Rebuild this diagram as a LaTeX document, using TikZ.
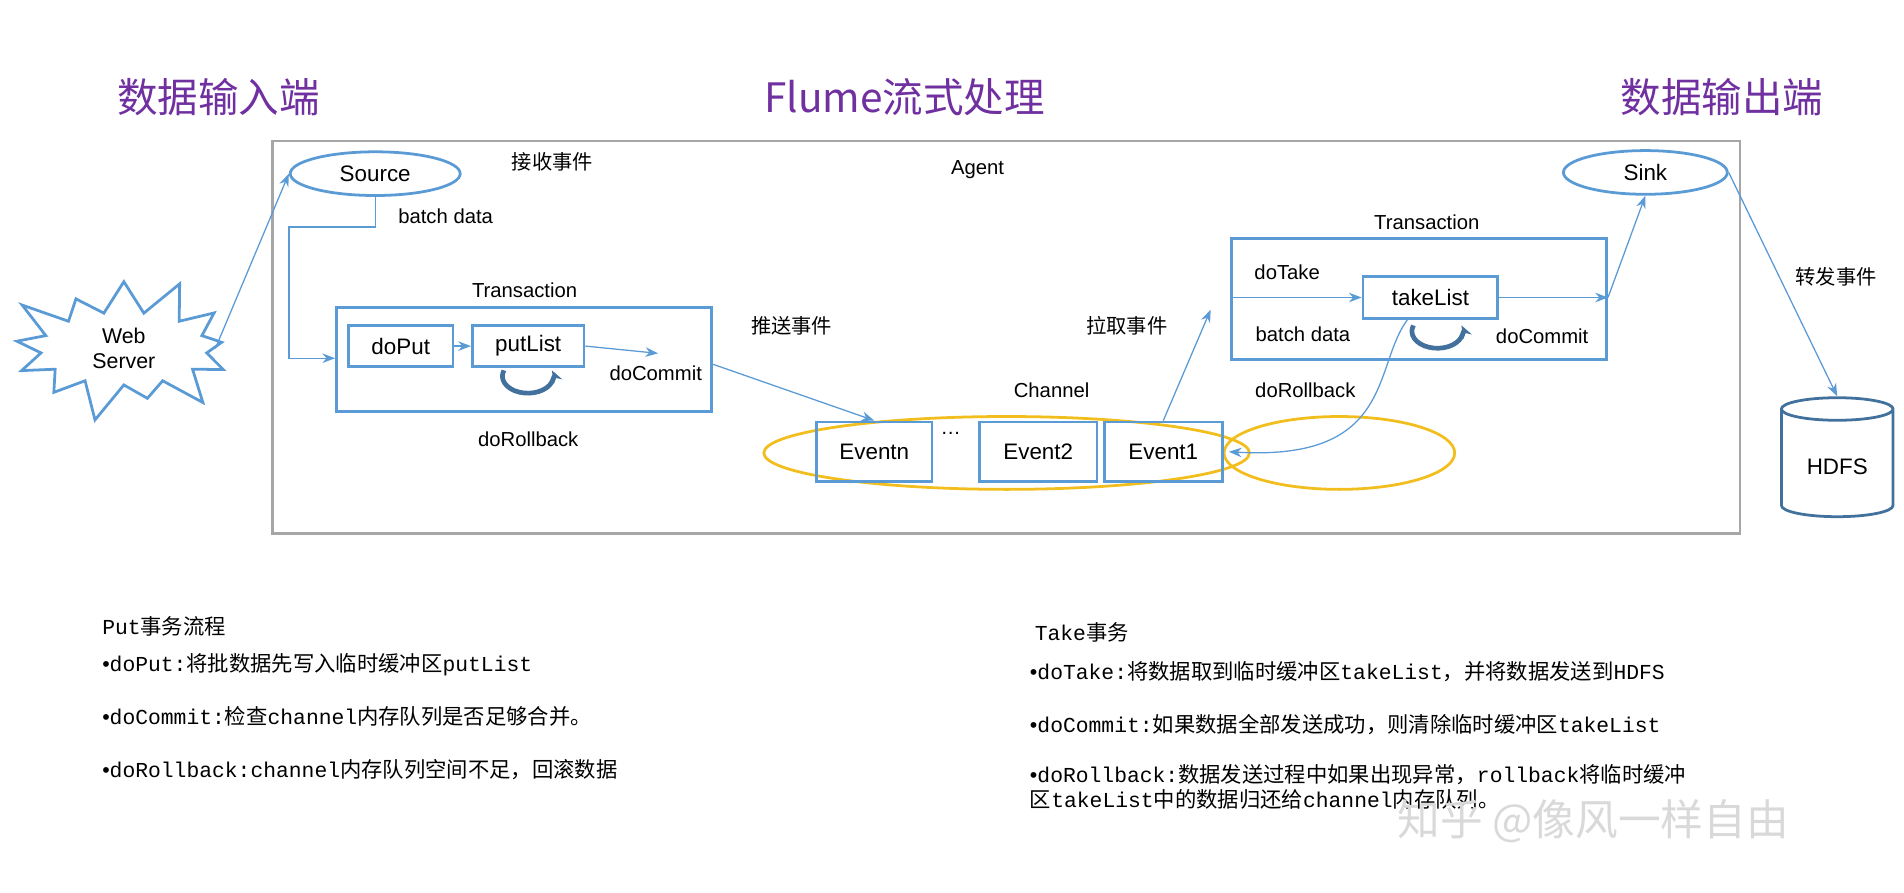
\documentclass[tikz,border=0pt]{standalone}
\usepackage{fontspec}
\setmainfont{Liberation Sans}
\newfontfamily\cjk{Noto Sans CJK SC}
\newfontfamily\mono{Liberation Mono}
\usetikzlibrary{shapes.geometric,shapes.symbols,arrows.meta}
\definecolor{bl}{HTML}{5B9BD5}
\definecolor{dbl}{HTML}{41719C}
\definecolor{pur}{HTML}{7030A0}
\definecolor{yel}{HTML}{F2BE1E}
\begin{document}
\begin{tikzpicture}[x=0.02cm,y=-0.02cm,
  box/.style={draw=bl,line width=1.3pt,minimum height=0.68cm,font=\fontsize{10.5}{12}\selectfont},
  arr/.style={draw=bl,-{Stealth[length=6pt]},line width=0.6pt},
  lab/.style={font=\fontsize{9.5}{11}\selectfont},
  zh/.style={font=\cjk\fontsize{9.5}{11}\selectfont},
  title/.style={font=\cjk\fontsize{19}{22}\selectfont,text=pur},
  txt/.style={anchor=west,font=\fontsize{10}{12}\selectfont}]
\useasboundingbox (0,0) rectangle (1568,735);
\node[title] (t1) at (180,80) {数据输入端};
\node[title] (t2) at (745,80) {Flume流式处理};
\node[title] (t3) at (1418,80) {数据输出端};
\node[draw=gray!70,line width=1.3pt,minimum width=24.18cm,minimum height=6.46cm,anchor=north west] (agent) at (223,115) {};
\node[lab] (agl) at (805,140) {Agent};
\node[ellipse,draw=bl,line width=1.3pt,minimum width=2.8cm,minimum height=0.72cm,font=\fontsize{10.5}{12}\selectfont] (src) at (309,143) {Source};
\node[zh] (l1) at (455,133) {接收事件};
\node[lab] (l2) at (367,178) {batch data};
\node[starburst,starburst points=13,starburst point height=0.7cm,draw=bl,line width=1.3pt,minimum width=4.15cm,minimum height=2.6cm,align=center,font=\fontsize{10}{12}\selectfont,inner sep=0pt] (web) at (102,287) {Web\\Server};
\draw[arr] (web.east) -- (src.west);
\node[draw=bl,line width=1.3pt,minimum width=6.18cm,minimum height=1.72cm,anchor=north west] (tr1) at (276,252) {};
\node[lab] (tr1l) at (432,239) {Transaction};
\draw[arr] (src.south) -- (309,187) -- (238,187) -- (238,295) -- (tr1.west|-0,295);
\node[box,minimum width=1.72cm] (doput) at (330,285) {doPut};
\node[box,minimum width=1.84cm] (putl) at (435,285) {putList};
\draw[arr] (doput) -- (putl);
\coordinate (c1) at (542,291);
\draw[arr] (putl.east) -- (c1);
\node[lab] (dc1) at (540,307) {doCommit};
\draw[dbl,line width=2.2pt,-{Stealth[length=6pt]}] (415,305) arc[start angle=200,end angle=-20,x radius=0.42cm,y radius=-0.28cm];
\node[lab] (dr1) at (435,362) {doRollback};
\node[zh] (l3) at (652,268) {推送事件};
\draw[yel,line width=1.3pt] (829,373) ellipse[x radius=4cm,y radius=0.6cm];
\draw[yel,line width=1.3pt] (1103,373) ellipse[x radius=1.9cm,y radius=0.6cm];
\node[lab] (chl) at (866,321) {Channel};
\node[box,minimum width=1.9cm,minimum height=0.98cm] (en) at (720,372) {Eventn};
\node[lab] (dots) at (783,357) {…};
\node[box,minimum width=1.94cm,minimum height=0.98cm] (e2) at (855,372) {Event2};
\node[box,minimum width=1.94cm,minimum height=0.98cm] (e1) at (958,372) {Event1};
\draw[arr] (tr1.east|-0,300) -- (en.north);
\node[zh] (l4) at (928,268) {拉取事件};
\draw[arr] (e1.north) -- (997,255);
\node[draw=bl,line width=1.3pt,minimum width=6.18cm,minimum height=2cm,anchor=north west] (tr2) at (1013,195) {};
\node[lab] (tr2l) at (1175,183) {Transaction};
\node[box,minimum width=2.22cm] (tl) at (1178,245) {takeList};
\node[lab] (dt) at (1060,224) {doTake};
\draw[arr] (tr2.west|-tl) -- (tl.west);
\draw[arr] (tl.east) -- (tr2.east|-tl);
\node[lab] (bd2) at (1073,275) {batch data};
\node[lab] (dc2) at (1270,277) {doCommit};
\draw[dbl,line width=2.2pt,-{Stealth[length=6pt]}] (1164,268) arc[start angle=200,end angle=-20,x radius=0.42cm,y radius=-0.28cm];
\node[lab] (dr2) at (1075,321) {doRollback};
\draw[arr] (1160,262) .. controls (1130,300) and (1150,380) .. (1012,372);
\node[ellipse,draw=bl,line width=1.3pt,minimum width=2.7cm,minimum height=0.72cm,font=\fontsize{10.5}{12}\selectfont] (sink) at (1355,142) {Sink};
\draw[arr] (tr2.east|-0,245) -- (sink.south);
\node[zh] (l5) at (1512,228) {转发事件};
\node[cylinder,shape border rotate=90,aspect=0.3,draw=dbl,line width=1.3pt,minimum width=1.84cm,minimum height=1.96cm,font=\fontsize{10.5}{12}\selectfont] (hdfs) at (1513,384) {HDFS};
\draw[arr] (sink.east) -- (hdfs.north);
\node[txt] (p0) at (78,516) {\mono Put\cjk 事务流程};
\node[txt] (p1) at (78,547) {•\mono doPut:\cjk 将批数据先写入临时缓冲区\mono putList};
\node[txt] (p2) at (78,590) {•\mono doCommit:\cjk 检查\mono channel\cjk 内存队列是否足够合并。};
\node[txt] (p3) at (78,634) {•\mono doRollback:channel\cjk 内存队列空间不足，回滚数据};
\node[txt] (q0) at (846,521) {\mono Take\cjk 事务};
\node[txt] (q1) at (842,553) {•\mono doTake:\cjk 将数据取到临时缓冲区\mono takeList\cjk ，并将数据发送到\mono HDFS};
\node[txt] (q2) at (842,597) {•\mono doCommit:\cjk 如果数据全部发送成功，则清除临时缓冲区\mono takeList};
\node[txt,align=left] (q3) at (842,648) {•\mono doRollback:\cjk 数据发送过程中如果出现异常，\mono rollback\cjk 将临时缓冲\\\cjk 区\mono takeList\cjk 中的数据归还给\mono channel\cjk 内存队列。};
\node[font=\cjk\fontsize{20}{24}\selectfont,text=gray!30] (wm) at (1312,676) {知乎 @像风一样自由};
\end{tikzpicture}
\end{document}
